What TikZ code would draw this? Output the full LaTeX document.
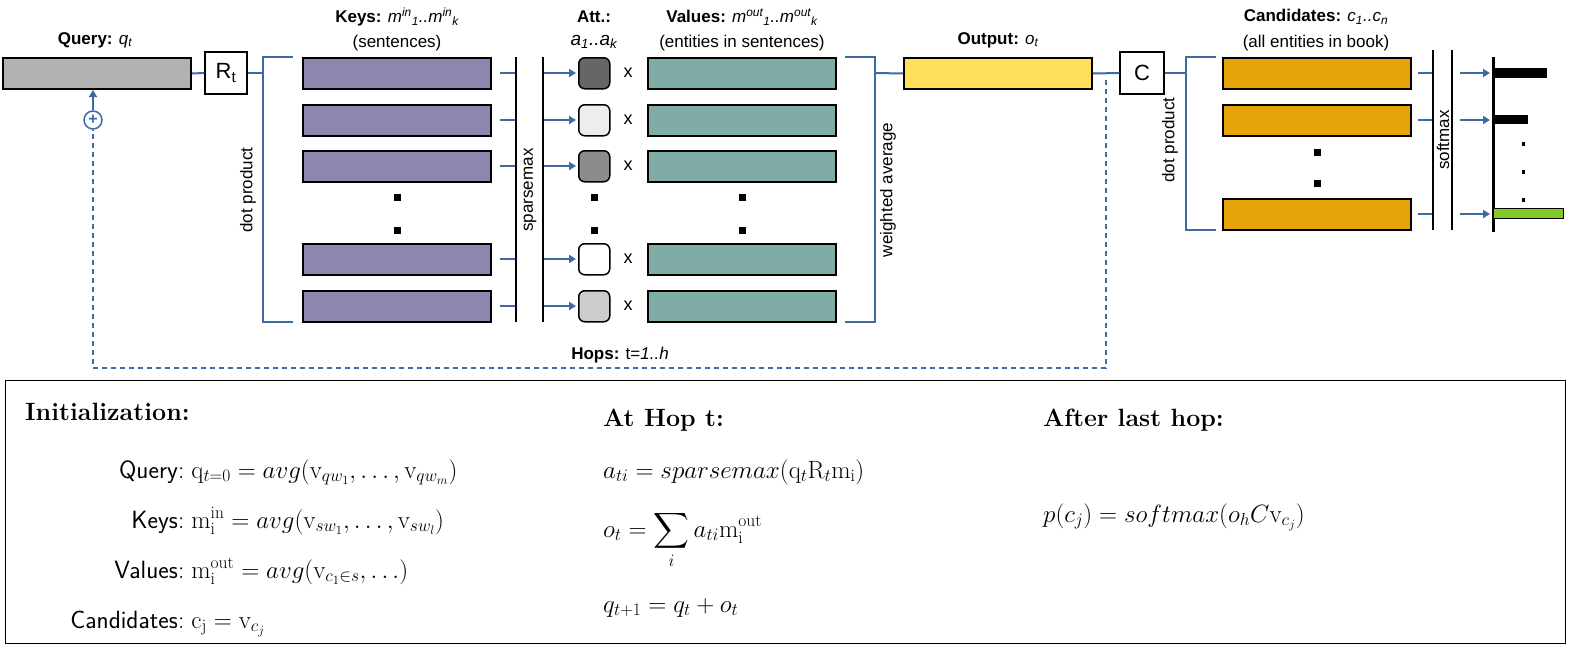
\RequirePackage{fix-cm}
\documentclass[tikz,border=0pt]{standalone}
\usepackage{fontspec}
\usepackage{amsmath}
\newfontfamily\arial{Liberation Sans}
\usetikzlibrary{arrows.meta}
\definecolor{keyc}{RGB}{142,134,174}
\definecolor{valc}{RGB}{127,172,164}
\definecolor{outc}{RGB}{255,222,89}
\definecolor{canc}{RGB}{230,163,10}
\definecolor{blu}{RGB}{62,106,165}
\definecolor{grn}{RGB}{130,200,40}
\begin{document}
\begin{tikzpicture}[x=1pt,y=-1pt,
  bar/.style={draw=black,line width=2pt,minimum width=188pt,minimum height=31pt,inner sep=0,anchor=north west},
  att/.style={draw=black,line width=1.5pt,rounded corners=6pt,minimum size=31pt,inner sep=0,anchor=north west},
  ln/.style={blu,line width=2pt},
  arr/.style={blu,line width=2pt,-{Triangle[length=7pt,width=8pt]}},
  vbar/.style={black,line width=2pt},
  lab/.style={font=\arial\fontsize{17}{19}\selectfont,inner sep=0},
  rot/.style={lab,rotate=90},
  dot/.style={fill=black,minimum size=7pt,inner sep=0}
]
\useasboundingbox (0,0) rectangle (1578,648);
% query
\node[bar,fill=black!30,minimum width=188pt] (q) at (2,57) {};
\node[lab] (ql) at (95,40) {\textbf{Query:} \textit{q\textsubscript{t}}};
\node[draw,line width=1.5pt,minimum width=42pt,minimum height=42pt,inner sep=0,font=\arial\fontsize{22}{24}\selectfont] (R) at (226,73) {R\textsubscript{t}};
\draw[ln] (q.east) -- (R.west);
\coordinate (b1t) at (263,57); \coordinate (b1b) at (263,322);
\draw[ln] (R.east) -- (263,73);
\draw[ln] (293,57) -- (b1t) -- (b1b) -- (293,322);
\node[rot] (dp1) at (248,190) {dot product};
% keys
\foreach \i/\y in {1/57,2/104,3/150,4/243,5/290}{
  \node[bar,fill=keyc,minimum width=188pt] (k\i) at (302,\y) {};
  \draw[ln] (500,\y+16) -- (516,\y+16);
  \draw[arr] (543,\y+16) -- (576,\y+16);
  \node[lab,font=\arial\fontsize{18}{20}\selectfont] (x\i) at (628,\y+16) {x};
  \node[bar,fill=valc,minimum width=188pt] (v\i) at (647,\y) {};
}
\node[att,fill=black!60] (a1) at (578,57) {};
\node[att,fill=black!7] (a2) at (578,104) {};
\node[att,fill=black!45] (a3) at (578,150) {};
\node[att,fill=white] (a4) at (578,243) {};
\node[att,fill=black!20] (a5) at (578,290) {};
\foreach \x in {397,594,742}{\node[dot] at (\x,197) {}; \node[dot] at (\x,230) {};}
\draw[vbar] (516,57) -- (516,322);
\draw[vbar] (543,57) -- (543,322);
\node[rot] (sp) at (530,190) {sparsemax};
\node[lab] at (397,17) {\textbf{Keys:} \textit{m\textsuperscript{in}\textsubscript{1}..m\textsuperscript{in}\textsubscript{k}}};
\node[lab] at (397,43) {(sentences)};
\node[lab] at (594,17) {\textbf{Att.:}};
\node[lab,font=\arial\fontsize{19}{21}\selectfont] at (594,42) {\textit{a\textsubscript{1}..a\textsubscript{k}}};
\node[lab] at (742,17) {\textbf{Values:} \textit{m\textsuperscript{out}\textsubscript{1}..m\textsuperscript{out}\textsubscript{k}}};
\node[lab] at (742,43) {(entities in sentences)};
% weighted avg
\draw[ln] (845,57) -- (875,57) -- (875,322) -- (845,322);
\node[rot] (wa) at (888,190) {weighted average};
\node[bar,fill=outc,minimum width=188pt] (o) at (903,57) {};
\draw[ln] (875,73) -- (o.west);
\node[lab] at (998,40) {\textbf{Output:} \textit{o\textsubscript{t}}};
\node[draw,line width=1.5pt,minimum width=44pt,minimum height=42pt,inner sep=0,font=\arial\fontsize{22}{24}\selectfont] (C) at (1142,73) {C};
\draw[ln] (o.east) -- (C.west);
\draw[ln] (C.east) -- (1186,73);
\draw[ln] (1216,57) -- (1186,57) -- (1186,230) -- (1216,230);
\node[rot] (dp2) at (1170,140) {dot product};
% hops
\node[draw=blu,line width=1.5pt,circle,minimum size=18pt,inner sep=0,text=blu,font=\arial\bfseries\fontsize{16}{16}\selectfont] (plus) at (93,120) {+};
\coordinate (h1) at (1106,80); \coordinate (h2) at (1106,368); \coordinate (h3) at (93,368);
\draw[blu,line width=2pt,dash pattern=on 5pt off 4pt] (h1) -- (h2) -- (h3) -- (plus.south);
\draw[arr] (plus.north) -- (plus.north |- q.south);
\node[lab,fill=white,inner sep=2pt] at (620,355) {\textbf{Hops:} t=\textit{1..h}};
% candidates
\foreach \i/\y in {1/57,2/104,3/198}{
  \node[bar,fill=canc,minimum width=188pt] (c\i) at (1222,\y) {};
  \draw[ln] (1418,\y+16) -- (1432,\y+16);
  \draw[arr] (1460,\y+16) -- (1490,\y+16);
}
\node[dot] at (1317,152) {}; \node[dot] at (1317,183) {};
\draw[vbar] (1433,50) -- (1433,230);
\draw[vbar] (1452,50) -- (1452,230);
\node[rot] (sm) at (1443,140) {softmax};
\node[lab] at (1316,17) {\textbf{Candidates:} \textit{c\textsubscript{1}..c\textsubscript{n}}};
\node[lab] at (1316,43) {(all entities in book)};
\draw[black,line width=3pt] (1493,57) -- (1493,232);
\fill[black] (1493,68) rectangle (1547,78);
\fill[black] (1493,115) rectangle (1528,124);
\draw[fill=grn,line width=1pt] (1493,208) rectangle (1563,218);
\foreach \y in {142,170,198}{\fill (1522,\y) rectangle (1525,\y+4);}
% bottom box
\node[draw,line width=1pt,minimum width=1560pt,minimum height=263pt,anchor=north west,inner sep=0] (box) at (5,380) {};
\begin{scope}[every node/.style={font=\fontsize{25}{29}\selectfont,inner sep=0}]
\node[anchor=west] at (25,412) {\textbf{Initialization:}};
\node[anchor=west] at (603,420) {\textbf{At Hop t:}};
\node[anchor=west] at (1043,420) {\textbf{After last hop:}};
\node[anchor=base east] at (178,478) {\textsf{Query}};
\node[anchor=base west] at (178,478) {$:\mathrm{q}_{t=0}=avg(\mathrm{v}_{qw_1},\ldots,\mathrm{v}_{qw_m})$};
\node[anchor=base east] at (178,528) {\textsf{Keys}};
\node[anchor=base west] at (178,528) {$:\mathrm{m_i^{in}}=avg(\mathrm{v}_{sw_1},\ldots,\mathrm{v}_{sw_l})$};
\node[anchor=base east] at (178,578) {\textsf{Values}};
\node[anchor=base west] at (178,578) {$:\mathrm{m_i^{out}}=avg(\mathrm{v}_{c_1\in s},\ldots)$};
\node[anchor=base east] at (178,628) {\textsf{Candidates}};
\node[anchor=base west] at (178,628) {$:\mathrm{c_j}=\mathrm{v}_{c_j}$};
\node[anchor=base west] at (603,478) {$a_{ti}=sparsemax(\mathrm{q}_t\mathrm{R}_t\mathrm{m_i})$};
\node[anchor=west] at (603,540) {$o_t=\displaystyle\sum_i a_{ti}\mathrm{m_i^{out}}$};
\node[anchor=base west] at (603,612) {$q_{t+1}=q_t+o_t$};
\node[anchor=base west] at (1043,522) {$p(c_j)=softmax(o_hC\mathrm{v}_{c_j})$};
\end{scope}
\end{tikzpicture}
\end{document}
